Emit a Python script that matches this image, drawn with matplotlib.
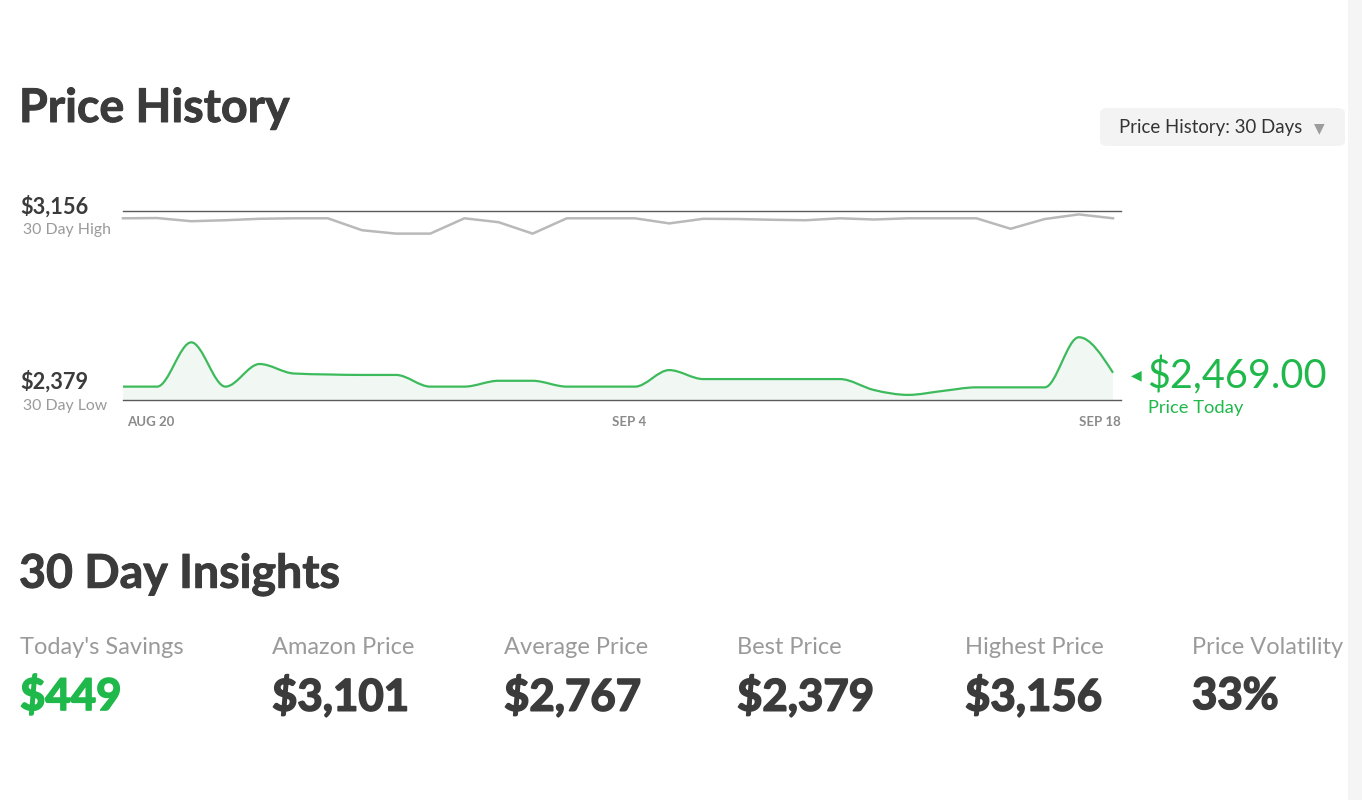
import numpy as np
import matplotlib
matplotlib.use("Agg")
import matplotlib.pyplot as plt
import matplotlib.patheffects as pe
from matplotlib.path import Path
from matplotlib.patches import PathPatch, FancyBboxPatch, Rectangle

plt.rcParams['font.family'] = ['Lato', 'DejaVu Sans']

# ---------------- data ----------------
days = list(range(30))  # Aug 20 .. Sep 18
high_series = [3126, 3127, 3114, 3118, 3124, 3126, 3126, 3077, 3063, 3063,
               3126, 3110, 3063, 3126, 3126, 3126, 3105, 3124, 3123, 3120,
               3118, 3126, 3121, 3126, 3126, 3126, 3083, 3123, 3142, 3126]
low_series = [2434, 2434, 2616, 2434, 2527, 2488, 2484, 2482, 2482, 2434,
              2434, 2458, 2458, 2434, 2434, 2434, 2502, 2465, 2465, 2465,
              2465, 2465, 2420, 2400, 2416, 2431, 2431, 2431, 2637, 2491]
tick_pos = [0, 15, 29]
tick_labels = ["AUG 20", "SEP 4", "SEP 18"]
y_high, y_low = 3156, 2379
price_today = "$2,469.00"
insight_labels = ["Today's Savings", "Amazon Price", "Average Price",
                  "Best Price", "Highest Price", "Price Volatility"]
insight_values = ["$449", "$3,101", "$2,767", "$2,379", "$3,156", "33%"]

GREEN = '#1fb84a'
LINEGREEN = '#3dbb5c'
DARK = '#3b3b3b'
GRAY = '#9a9a9a'

W, H = 1362, 800
fig = plt.figure(figsize=(W / 100, H / 100), dpi=100)
fig.patch.set_facecolor('white')


def T(x, y, s, **kw):
    return fig.text(x / W, 1 - y / H, s, **kw)


# ---------------- chart ----------------
left, right, top, bottom = 123, 1121, 211, 400
ax = fig.add_axes([left / W, 1 - bottom / H, (right - left) / W, (bottom - top) / H])
step = (1113 - 123) / 29.0
ax.set_xlim(0, (right - left) / step)
ax.set_ylim(y_low, y_high)
for s in ['left', 'right']:
    ax.spines[s].set_visible(False)
for s in ['top', 'bottom']:
    ax.spines[s].set_color('#5a5a5a')
    ax.spines[s].set_linewidth(1.0)
ax.set_xticks([])
ax.set_yticks([])
ax.patch.set_alpha(0)

ax.plot(days, high_series, color='#b9b9b9', lw=1.8, solid_joinstyle='miter', clip_on=False)


def monotone_path(xs, ys):
    xs = np.asarray(xs, float)
    ys = np.asarray(ys, float)
    n = len(xs)
    h = np.diff(xs)
    s = np.diff(ys) / h
    t = np.zeros(n)
    for i in range(1, n - 1):
        s0, s1 = s[i - 1], s[i]
        p = (s0 * h[i] + s1 * h[i - 1]) / (h[i - 1] + h[i])
        t[i] = (np.sign(s0) + np.sign(s1)) * min(abs(s0), abs(s1), 0.5 * abs(p))
    t[0] = (3 * s[0] - t[1]) / 2
    t[-1] = (3 * s[-1] - t[-2]) / 2
    verts = [(xs[0], ys[0])]
    codes = [Path.MOVETO]
    for i in range(n - 1):
        dx = h[i] / 3
        verts += [(xs[i] + dx, ys[i] + dx * t[i]),
                  (xs[i + 1] - dx, ys[i + 1] - dx * t[i + 1]),
                  (xs[i + 1], ys[i + 1])]
        codes += [Path.CURVE4] * 3
    return verts, codes


verts, codes = monotone_path(days, low_series)
fill_verts = verts + [(days[-1], y_low), (days[0], y_low), verts[0]]
fill_codes = codes + [Path.LINETO, Path.LINETO, Path.CLOSEPOLY]
ax.add_patch(PathPatch(Path(fill_verts, fill_codes), facecolor='#f1f8f3',
                       edgecolor='none', zorder=1))
ax.add_patch(PathPatch(Path(verts, codes), facecolor='none',
                       edgecolor=LINEGREEN, lw=1.6, zorder=2))

# ---------------- texts ----------------
heavy = lambda c, w=0.9: [pe.withStroke(linewidth=w, foreground=c)]

T(19, 108, "Price History", fontsize=33.5, fontweight='bold', color=DARK, va='center',
  path_effects=heavy(DARK, 0.7))

box = FancyBboxPatch((1100 / W, 1 - 146 / H), 245 / W, 38 / H,
                     boxstyle="round,pad=0,rounding_size=0.006",
                     transform=fig.transFigure, facecolor='#f3f3f3',
                     edgecolor='none')
fig.patches.append(box)
T(1119, 127, "Price History: 30 Days", fontsize=13.4, color='#333333', va='center')
T(1319, 128, "▼", fontsize=10, color='#9c9c9c', va='center', ha='center',
  family=['DejaVu Sans'])

T(20, 207, "$3,156", fontsize=15.7, fontweight='bold', color=DARK, va='center')
T(23, 230, "30 Day High", fontsize=11.4, color=GRAY, va='center')
T(20, 382, "$2,379", fontsize=15.7, fontweight='bold', color=DARK, va='center')
T(23, 406, "30 Day Low", fontsize=11.4, color=GRAY, va='center')

for p, lab in zip(tick_pos, tick_labels):
    if p == 0:
        T(127, 422, lab, fontsize=9.5, fontweight='bold', color='#8a8a8a', va='center', ha='left')
    elif p == 29:
        T(1121, 422, lab, fontsize=9.5, fontweight='bold', color='#8a8a8a', va='center', ha='right')
    else:
        xp = left + p * step
        T(xp - 6, 422, lab, fontsize=9.5, fontweight='bold', color='#8a8a8a', va='center', ha='center')

T(1136, 375, "◀", fontsize=10, color=GREEN, va='center', ha='center', family=['DejaVu Sans'])
T(1147, 376, price_today, fontsize=28.5, color=GREEN, va='center')
T(1148, 408, "Price Today", fontsize=13.2, color=GREEN, va='center')

T(19, 574, "30 Day Insights", fontsize=33.5, fontweight='bold', color=DARK, va='center',
  path_effects=heavy(DARK, 0.7))

xs_ins = [20, 272, 504, 737, 965, 1192]
for i, (x, lab, val) in enumerate(zip(xs_ins, insight_labels, insight_values)):
    T(x, 647, lab, fontsize=17, color=GRAY, va='center')
    c = GREEN if i == 0 else DARK
    T(x, 696, val, fontsize=31.5, fontweight='bold', color=c, va='center',
      path_effects=heavy(c, 1.2))

fig.patches.append(Rectangle((1348 / W, 0), 14 / W, 1, transform=fig.transFigure,
                             facecolor='#f5f5f5', edgecolor='none'))

fig.savefig('out.png', dpi=100, facecolor='white')
